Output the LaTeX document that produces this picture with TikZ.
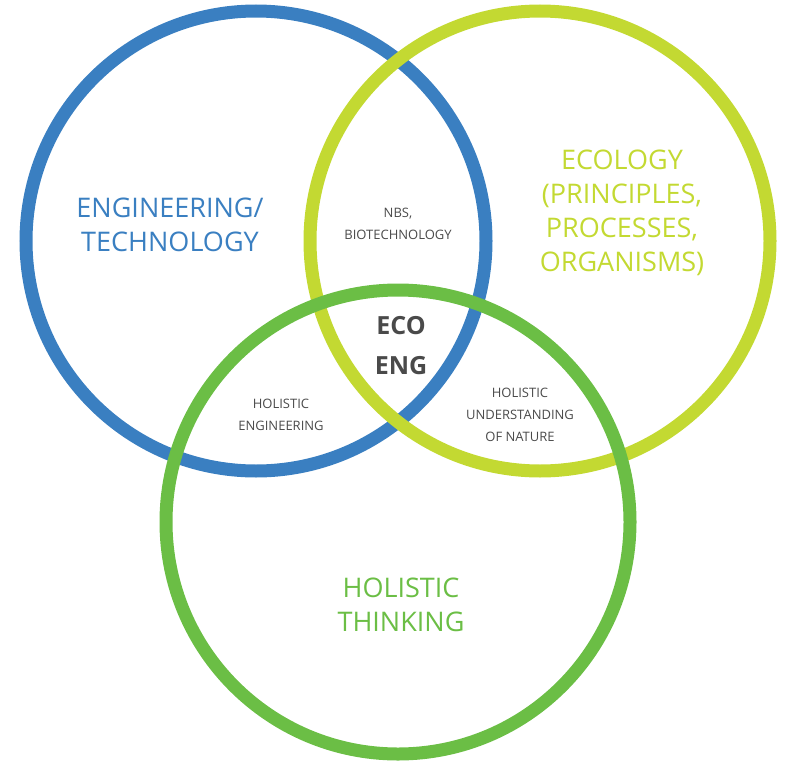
\documentclass[tikz,border=0pt]{standalone}
\usepackage{fontspec}
\setmainfont{Open Sans}
\definecolor{cblue}{HTML}{3A7FC1}
\definecolor{cyel}{HTML}{C3D932}
\definecolor{cgreen}{HTML}{6BBE45}
\definecolor{ctext}{HTML}{4A4A4A}
\begin{document}
\begin{tikzpicture}[x=1pt,y=-1pt,
  ring/.style={line width=13pt},
  big/.style={font=\fontsize{27}{34}\selectfont, align=center},
  small/.style={font=\fontsize{13}{22}\selectfont, text=ctext, align=center}]
\useasboundingbox (0,0) rectangle (803,768);
\draw[ring,cblue] (256,241) circle (230);
\draw[ring,cyel] (540,241) circle (230);
\draw[ring,cgreen] (398,522) circle (232);
\node[big,text=cblue] (eng) at (170,225) {ENGINEERING/\\TECHNOLOGY};
\node[big,text=cyel] (eco) at (622,213) {ECOLOGY\\(PRINCIPLES,\\PROCESSES,\\ORGANISMS)};
\node[big,text=cgreen] (hol) at (401,605) {HOLISTIC\\THINKING};
\node[small] (nbs) at (398,224) {NBS,\\BIOTECHNOLOGY};
\node[small] (he) at (281,415) {HOLISTIC\\ENGINEERING};
\node[small] (hu) at (520,415) {HOLISTIC\\UNDERSTANDING\\OF NATURE};
\node[font=\bfseries\fontsize{25}{40}\selectfont, text=ctext, align=center] (center) at (401,346) {ECO\\ENG};
\end{tikzpicture}
\end{document}
